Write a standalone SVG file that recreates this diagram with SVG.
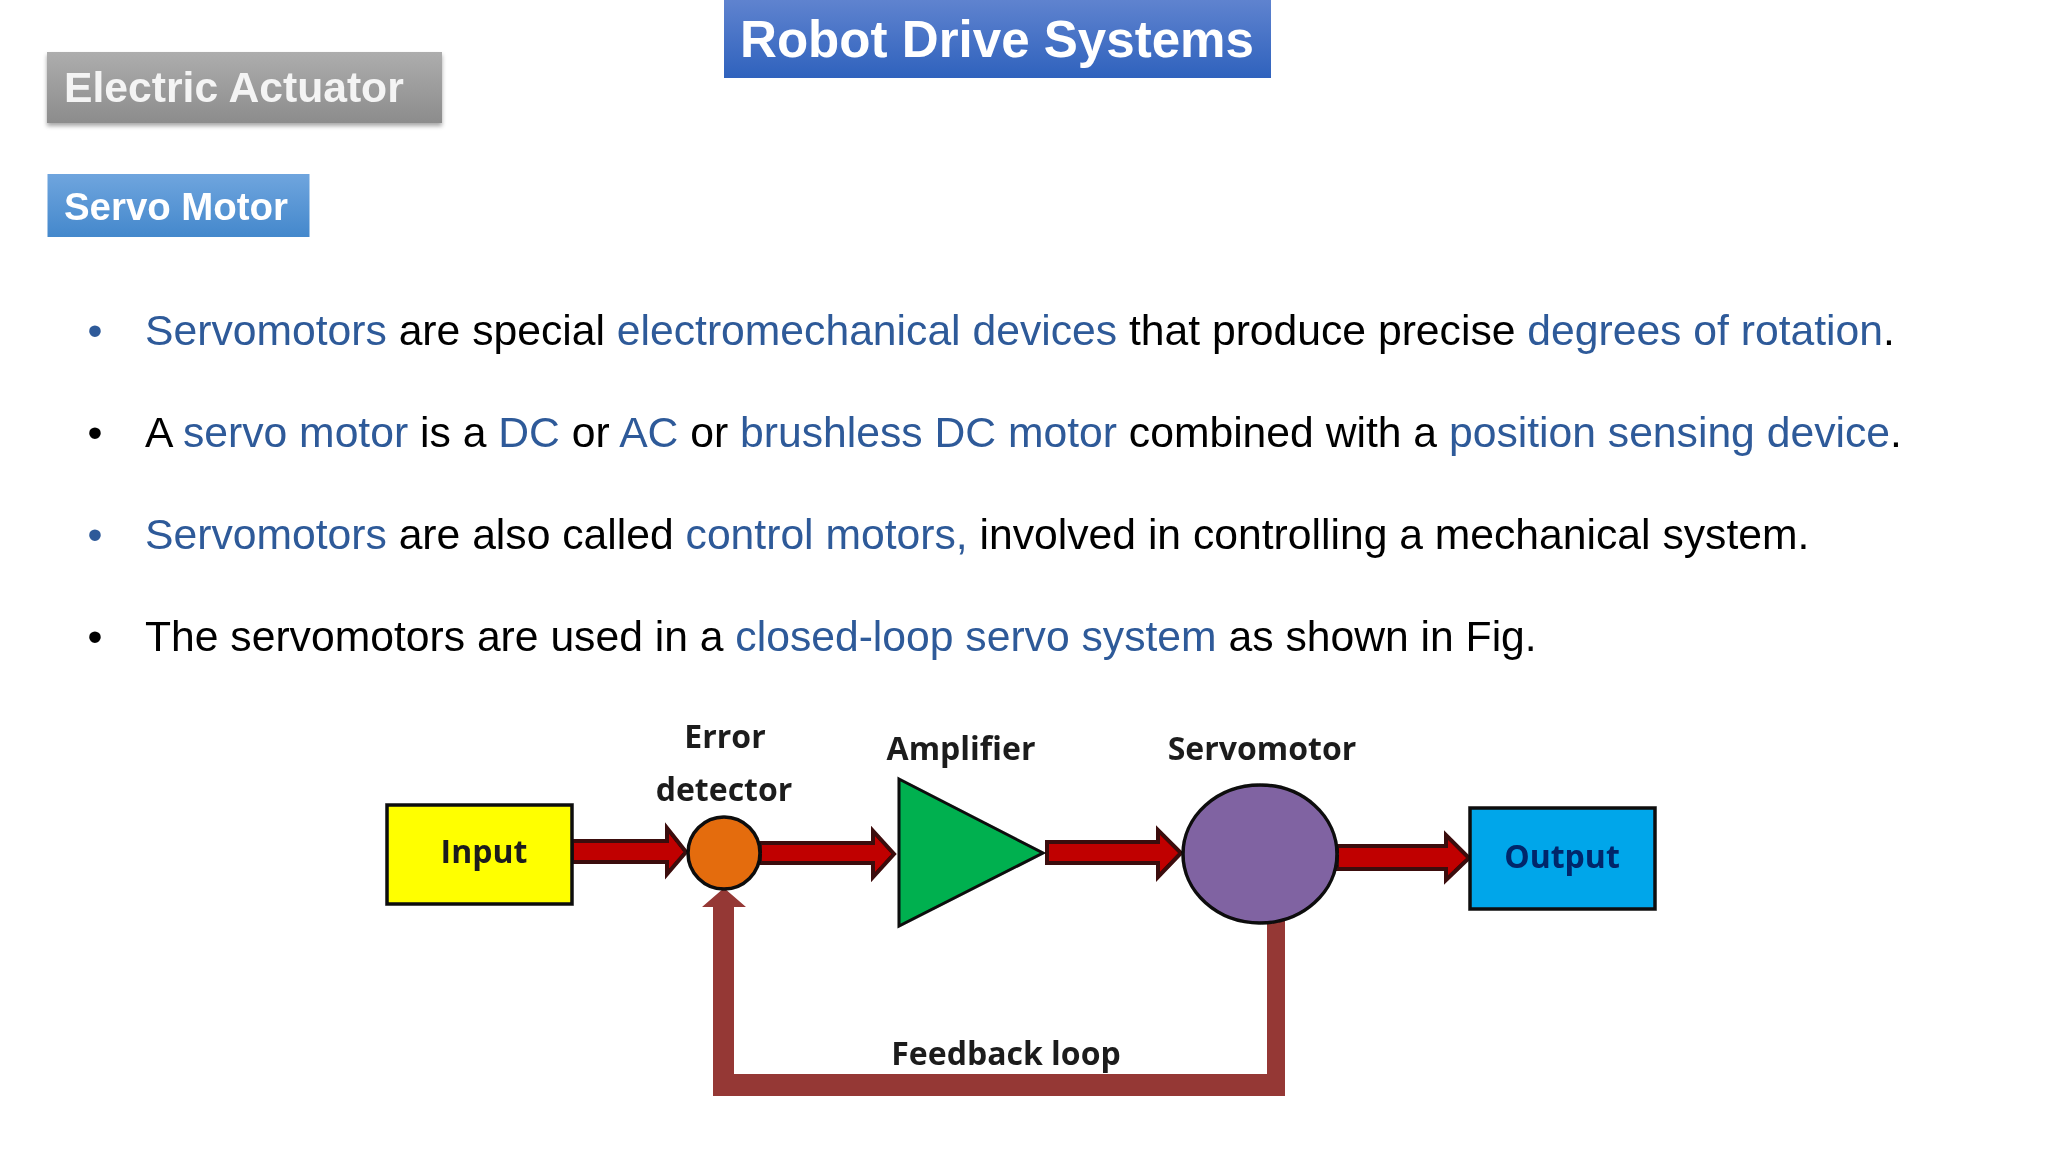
<svg xmlns="http://www.w3.org/2000/svg" width="2048" height="1152" viewBox="0 0 2048 1152">
<style>
.b{font-family:"Liberation Sans",Arial,sans-serif;font-size:42.66px;fill:#000}
.h{font-family:"Liberation Sans",Arial,sans-serif;font-weight:700;fill:#fff}
.k{fill:#2e5a99}
.l{font-family:"Open Sans","Noto Sans",sans-serif;font-weight:700;font-size:32px;fill:#1f1f1f;text-anchor:middle}
.ar{fill:#c00000;stroke:#3a0808;stroke-width:4;stroke-linejoin:miter}
.nd{stroke:#0a0a0a;stroke-width:3.500}
.soft{filter:url(#bl)}
.soft2{filter:url(#bl2)}
</style>
<defs>
<linearGradient id="gT" x1="0" y1="0" x2="0" y2="1"><stop offset="0" stop-color="#5f83cf"/><stop offset="1" stop-color="#2f62bd"/></linearGradient>
<linearGradient id="gG" x1="0" y1="0" x2="0" y2="1"><stop offset="0" stop-color="#adadad"/><stop offset="1" stop-color="#8c8c8c"/></linearGradient>
<linearGradient id="gS" x1="0" y1="0" x2="0" y2="1"><stop offset="0" stop-color="#6fa5de"/><stop offset="1" stop-color="#4488cc"/></linearGradient>
<filter id="sh" x="-5%" y="-10%" width="110%" height="130%"><feDropShadow dx="0" dy="3" stdDeviation="2" flood-color="#000" flood-opacity=".35"/></filter>
<filter id="bl" x="-5%" y="-5%" width="110%" height="110%"><feGaussianBlur stdDeviation="0.6"/></filter>
<filter id="bl2" x="-2%" y="-2%" width="104%" height="104%"><feGaussianBlur stdDeviation="0.4"/></filter>
</defs>
<rect width="2048" height="1152" fill="#fff"/>
<g id="title"><rect x="724" y="0" width="547" height="78" fill="url(#gT)"/><text class="h soft2" x="740" y="57" font-size="51.1">Robot Drive Systems</text></g>
<g id="electric-actuator"><rect x="47" y="52" width="395" height="71" fill="url(#gG)" filter="url(#sh)"/><text class="h soft2" x="64" y="102" font-size="42.67" style="fill:#f4f4f4">Electric Actuator</text></g>
<g id="servo-motor"><rect x="47.500" y="174" width="262" height="63" fill="url(#gS)"/><text class="h soft2" x="64" y="220" font-size="38.4">Servo Motor</text></g>
<g id="bullets" class="soft2">
<text class="b k" x="87.500" y="344.500">•</text>
<text class="b" x="145" y="344.500"><tspan class="k">Servomotors</tspan> are special <tspan class="k">electromechanical devices</tspan> that produce precise <tspan class="k">degrees of rotation</tspan>.</text>
<text class="b" x="87.500" y="447">•</text>
<text class="b" x="145" y="447">A <tspan class="k">servo motor</tspan> is a <tspan class="k">DC</tspan> or <tspan class="k">AC</tspan> or <tspan class="k">brushless DC motor</tspan> combined with a <tspan class="k">position sensing device</tspan>.</text>
<text class="b k" x="87.500" y="549">•</text>
<text class="b" x="145" y="549"><tspan class="k">Servomotors</tspan> are also called <tspan class="k">control motors,</tspan> involved in controlling a mechanical system.</text>
<text class="b" x="87.500" y="651">•</text>
<text class="b" x="145" y="651">The servomotors are used in a <tspan class="k">closed-loop servo system</tspan> as shown in Fig.</text>
</g>
<g id="connectors" class="soft">
<polygon class="ar" points="572,841 667,841 667,828 686,852 667,874 667,862 572,862"/>
<polygon class="ar" points="760,843 873,843 873,831 894,854 873,877 873,863 760,863"/>
<polygon class="ar" points="1047,842 1158,842 1158,830 1181,853 1158,877 1158,863 1047,863"/>
<polygon class="ar" points="1337,846 1446,846 1446,835 1469,858 1446,880 1446,869 1337,869"/>
<polygon id="feedback" fill="#953735" points="1267,920 1285,920 1285,1096 713,1096 713,907 702,907 724,888 746,907 734,907 734,1074 1267,1074"/>
</g>
<g id="input" class="soft"><rect class="nd" x="387" y="805" width="185" height="99" fill="#ffff00"/><text class="l" x="484" y="863">Input</text></g>
<g id="error-detector" class="soft"><ellipse class="nd" cx="724" cy="853" rx="36" ry="36" fill="#e46c0a"/><text class="l" x="725" y="748">Error</text><text class="l" x="724" y="801">detector</text></g>
<g id="amplifier" class="soft"><polygon points="899,779 1043,853 899,926" fill="#00b050" stroke="#0a0a0a" stroke-width="3"/><text class="l" x="961" y="760">Amplifier</text></g>
<g id="servomotor" class="soft"><ellipse class="nd" cx="1260" cy="854" rx="77" ry="69" fill="#8064a2"/><text class="l" x="1262" y="760">Servomotor</text></g>
<g id="output" class="soft"><rect class="nd" x="1470" y="808" width="185" height="101" fill="#00a6ea"/><text class="l" x="1562" y="868" style="fill:#05256b">Output</text></g>
<text id="feedback-label" class="l soft" x="1006" y="1065">Feedback loop</text>
</svg>
